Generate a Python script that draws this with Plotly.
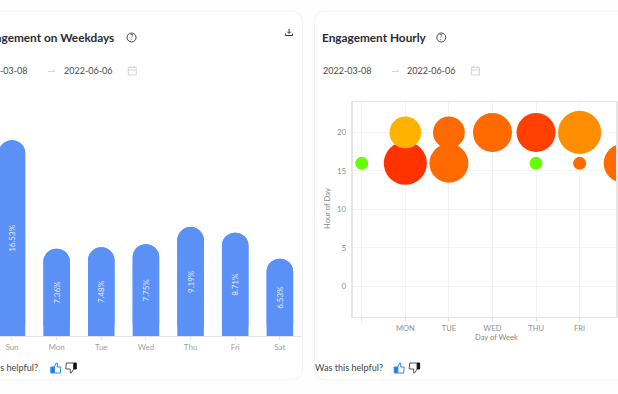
import plotly.graph_objects as go

W, H = 618, 394
FONT = "Lato"

# ---- data: weekday engagement ----
weekdays = ["Sun", "Mon", "Tue", "Wed", "Thu", "Fri", "Sat"]
weekday_share = [16.53, 7.36, 7.48, 7.75, 9.19, 8.71, 6.53]

# ---- data: hourly engagement ----
hour_day_labels = ["", "MON", "TUE", "WED", "THU", "FRI", "SAT"]
bubble_day = [0, 1, 1, 2, 2, 3, 4, 4, 5, 5, 6, 6]
bubble_hour = [16, 16, 20, 20, 16, 20, 20, 16, 20, 16, 16, 20]
bubble_count = [1, 11, 6, 6, 9, 9, 9, 1, 11, 1, 9, 1]
bubble_heat = [0.0, 1.0, 0.5, 0.785, 0.785, 0.785, 0.95, 0.0, 0.65, 0.785, 0.785, 1.0]
hour_ticks = [0, 5, 10, 15, 20]


def px(x):
    return x / W


def py(y):
    return 1 - y / H


def path(points, close=False):
    d = "M" + " L".join(f"{px(x):.5f},{py(y):.5f}" for x, y in points)
    return d + (" Z" if close else "")


def line_shape(points, color, width=1, fill=None, close=False):
    s = dict(type="path", xref="paper", yref="paper", path=path(points, close),
             line=dict(color=color, width=width), layer="above")
    if fill:
        s["fillcolor"] = fill
    return s


def card_path(x0, x1, y0, y1, r=12):
    def P(x, y):
        return f"{px(x):.5f},{py(y):.5f}"
    return (f"M{P(x0 + r, y0)} L{P(x1 - r, y0)} Q{P(x1, y0)} {P(x1, y0 + r)} "
            f"L{P(x1, y1 - r)} Q{P(x1, y1)} {P(x1 - r, y1)} L{P(x0 + r, y1)} "
            f"Q{P(x0, y1)} {P(x0, y1 - r)} L{P(x0, y0 + r)} Q{P(x0, y0)} {P(x0 + r, y0)} Z")


shapes = []
for x0, x1 in [(-40, 303.5), (315.5, 660)]:
    shapes.append(dict(type="path", xref="paper", yref="paper", path=card_path(x0, x1, 11, 380),
                       line=dict(color="#f2f2f4", width=1), fillcolor="#ffffff", layer="below"))


def circle(cx, cy, r, color):
    return dict(type="circle", xref="paper", yref="paper", x0=px(cx - r), x1=px(cx + r),
                y0=py(cy + r), y1=py(cy - r), line=dict(color=color, width=1), layer="above")


def calendar(cx, cy):
    c = "#d4d4d6"
    return [line_shape([(cx - 4, cy - 3.5), (cx + 4, cy - 3.5), (cx + 4, cy + 4), (cx - 4, cy + 4)], c, 1, close=True),
            line_shape([(cx - 4, cy - 1), (cx + 4, cy - 1)], c),
            line_shape([(cx - 2, cy - 5), (cx - 2, cy - 3)], c),
            line_shape([(cx + 2, cy - 5), (cx + 2, cy - 3)], c)]


def arrow(x0, x1, y):
    c = "#d8d8da"
    return [line_shape([(x0, y), (x1, y)], c), line_shape([(x1 - 2, y - 2), (x1, y)], c)]


def thumb_up(x, y):
    c = "#2f8be6"
    return [line_shape([(x - 5, y - 1), (x - 1.5, y - 1), (x - 1.5, y + 5), (x - 5, y + 5)], c, 1, fill="#1f7fe0", close=True),
            line_shape([(x - 1.5, y - 1), (x + 0.5, y - 5), (x + 1.5, y - 5), (x + 1.5, y - 1), (x + 5, y - 1),
                        (x + 4.5, y + 5), (x - 1.5, y + 5)], c, 1, close=True)]


def thumb_down(x, y):
    c = "#555555"
    return [line_shape([(x + 2.5, y - 5), (x + 5, y - 5), (x + 5, y + 1), (x + 2.5, y + 1)], "#111111", 1, fill="#111111", close=True),
            line_shape([(x + 2.5, y - 5), (x - 5, y - 5), (x - 5.5, y + 1), (x - 1, y + 1), (x - 1, y + 5),
                        (x, y + 5), (x + 2.5, y + 1)], c, 1)]


for cx in (132, 442.7):
    shapes.append(circle(cx, 37.5, 4.5, "#444444"))
for cx in (132.7, 477):
    shapes += calendar(cx, 71)
shapes += arrow(48, 55, 71.5) + arrow(393, 400, 71.5)
shapes += thumb_up(56, 368) + thumb_down(71.5, 368) + thumb_up(400.5, 368) + thumb_down(416, 368)
# download icon
shapes += [line_shape([(290, 29), (290, 33)], "#333333"),
           line_shape([(288.3, 31.8), (290, 33.5), (291.7, 31.8)], "#333333"),
           line_shape([(286.5, 33.5), (286.5, 35.5), (293.5, 35.5), (293.5, 33.5)], "#333333")]


def note(x, y, text, size, color, anchor="left", bold=False, angle=0):
    t = f"<b>{text}</b>" if bold else text
    return dict(xref="paper", yref="paper", x=px(x), y=py(y), text=t, showarrow=False, xanchor=anchor,
                yanchor="middle", textangle=angle, font=dict(family=FONT, size=size, color=color))


annotations = [
    note(116, 37.5, "Engagement on Weekdays", 11.8, "#2b2b33", "right", True),
    note(321, 37.5, "Engagement Hourly", 11.8, "#2b2b33", "left", True),
    note(29, 70.5, "2022-03-08", 9, "#4a4a4a", "right"),
    note(62, 70.5, "2022-06-06", 9, "#4a4a4a"),
    note(322, 70.5, "2022-03-08", 9, "#4a4a4a"),
    note(406, 70.5, "2022-06-06", 9, "#4a4a4a"),
    note(132, 37.8, "?", 7.5, "#444444", "center"),
    note(442.7, 37.8, "?", 7.5, "#444444", "center"),
    note(40, 367.5, "Was this helpful?", 9.1, "#444444", "right"),
    note(314, 367.5, "Was this helpful?", 9.1, "#444444"),
    note(498.5, 337, "Day of Week", 7.6, "#888888", "center"),
    note(328.5, 208.5, "Hour of Day", 7.6, "#888888", "center", angle=-90),
]

fig = go.Figure()

bar_labels = [f"{v}%" for v in weekday_share]
fig.add_trace(go.Bar(x=weekdays, y=weekday_share, xaxis="x", yaxis="y", width=0.594,
                     marker=dict(color="#5b90f6", cornerradius=13, line=dict(width=0)),
                     hoverinfo="skip"))
fig.add_trace(go.Bar(x=weekdays, y=[-v for v in weekday_share], base=weekday_share, xaxis="x", yaxis="y", width=0.594,
                     marker=dict(color="#5b90f6", cornerradius=13, line=dict(width=0)),
                     text=bar_labels, textposition="inside", textangle=-90, insidetextanchor="middle",
                     constraintext="none", textfont=dict(family=FONT, size=8, color="#e4ecfd"),
                     hoverinfo="skip"))

fig.add_trace(go.Scatter(x=bubble_day, y=bubble_hour, mode="markers", xaxis="x2", yaxis="y2",
                         marker=dict(size=bubble_count, sizemode="area", sizeref=2 / 169, opacity=1,
                                     color=bubble_heat, cmin=0, cmax=1, showscale=False,
                                     colorscale=[[0, "#66ff00"], [0.5, "#ffb300"], [1, "#ff3300"]],
                                     line=dict(width=0))))

fig.update_layout(
    width=W, height=H, autosize=False, margin=dict(l=0, r=0, t=0, b=0),
    paper_bgcolor="#fefefe", plot_bgcolor="rgba(0,0,0,0)", showlegend=False, barmode="overlay",
    shapes=shapes, annotations=annotations,
    xaxis=dict(domain=[0, px(303)], range=[-0.268, 6.496], type="category", anchor="y",
               showgrid=False, zeroline=False, showline=True, linecolor="#e3e3e6", linewidth=1,
               ticks="outside", ticklen=3, tickcolor="#e3e3e6",
               tickfont=dict(family=FONT, size=8, color="#a0a0a0")),
    yaxis=dict(domain=[py(336), py(120)], range=[0, 18.23], visible=False, anchor="x"),
    xaxis2=dict(domain=[px(354), 1], range=[-0.205, 5.835], anchor="y2", tickmode="array",
                tickvals=list(range(len(hour_day_labels))), ticktext=hour_day_labels,
                showgrid=True, gridcolor="#f3f3f6", zeroline=False, showline=True, mirror=True,
                linecolor="#e6e7ee", linewidth=1, ticks="outside", ticklen=4, tickcolor="#e3e3e6",
                tickfont=dict(family=FONT, size=7.5, color="#909090")),
    yaxis2=dict(domain=[py(316.5), py(102)], range=[-3.9, 23.95], anchor="x2", tickmode="array",
                tickvals=hour_ticks, showgrid=True, gridcolor="#f3f3f6", zeroline=False,
                showline=True, mirror=True, linecolor="#e6e6e8", linewidth=2,
                ticks="", ticklabelstandoff=3,
                tickfont=dict(family=FONT, size=8, color="#909090")),
)

fig.write_html("out.html", config=dict(displayModeBar=False),
               post_script="document.body.style.margin='0';document.body.style.overflow='hidden';")
